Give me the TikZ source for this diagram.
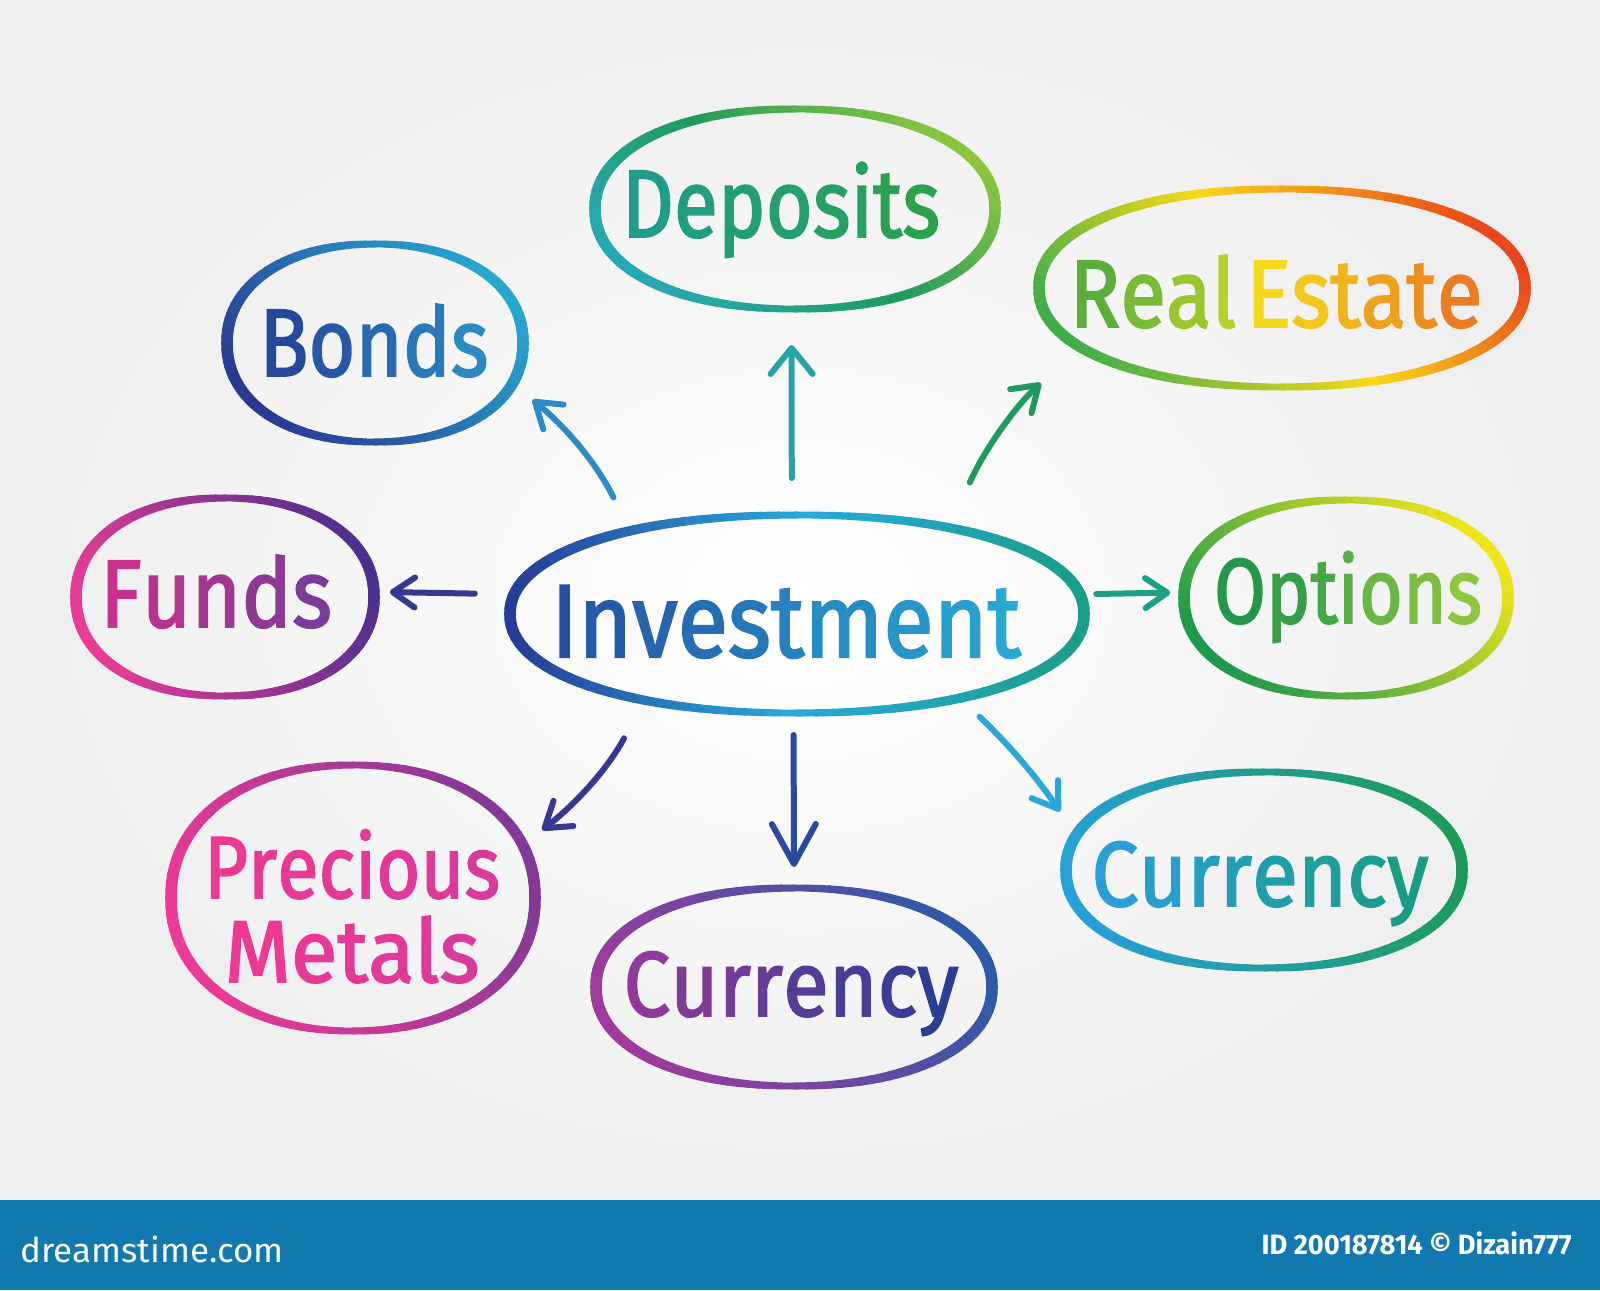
\documentclass[tikz,border=0pt]{standalone}
\usepackage{fontspec}
\setmainfont{Fira Sans}
\newfontfamily\hwfont{Fira Sans}[FakeBold=2]
\usepackage{graphicx}
\usetikzlibrary{shapes.geometric,arrows.meta}

\newlength\gpx
\setlength\gpx{0.5pt}
\newcommand\hw[1]{\hwfont\fontsize{#1}{#1}\selectfont}

\ExplSyntaxOn
\int_new:N \l_gt_i_int
\int_new:N \l_gt_n_int
\int_new:N \l_gt_p_int
\NewDocumentCommand \gradtext { m m m }
  {
    \int_zero:N \l_gt_i_int
    \int_set:Nn \l_gt_n_int { \int_max:nn { \tl_count:n {#3} - 1 } { 1 } }
    \tl_map_inline:nn {#3}
      {
        \int_set:Nn \l_gt_p_int { 100 * \l_gt_i_int / \l_gt_n_int }
        \edef\gtcol{#2!\int_use:N \l_gt_p_int!#1}
        \textcolor{\gtcol}{##1}
        \int_incr:N \l_gt_i_int
      }
  }
\ExplSyntaxOff

\definecolor{bgout}{RGB}{238,238,238}
\definecolor{barblue}{RGB}{17,120,176}
% Deposits
\definecolor{dpA}{HTML}{27A9B5}\definecolor{dpB}{HTML}{1F9A5C}\definecolor{dpC}{HTML}{8DC63F}
\definecolor{dpT1}{HTML}{1F9D8A}\definecolor{dpT2}{HTML}{2BA24A}
% Real Estate
\definecolor{reA}{HTML}{3FAE49}\definecolor{reB}{HTML}{F7D917}\definecolor{reC}{HTML}{E9431D}
\definecolor{reT1}{HTML}{5AAF3A}\definecolor{reT2}{HTML}{B6D22A}
\definecolor{reT3}{HTML}{F4D81A}\definecolor{reT4}{HTML}{EA7D22}
% Bonds
\definecolor{bnA}{HTML}{2A3A93}\definecolor{bnC}{HTML}{27A8CF}\colorlet{bnB}{bnA!50!bnC}
\definecolor{bnT1}{HTML}{24489C}\definecolor{bnT2}{HTML}{2B8AC4}
% Funds
\definecolor{fdA}{HTML}{EA3C94}\definecolor{fdC}{HTML}{4A2F8F}\colorlet{fdB}{fdA!50!fdC}
\definecolor{fdT1}{HTML}{C8318E}\definecolor{fdT2}{HTML}{7A3C98}
% Investment
\definecolor{ivA}{HTML}{263D98}\definecolor{ivB}{HTML}{27A9D9}\definecolor{ivC}{HTML}{1A9E86}
\definecolor{ivT1}{HTML}{2550A3}\definecolor{ivT2}{HTML}{28A9D4}
% Options
\definecolor{opA}{HTML}{1C9A4C}\definecolor{opC}{HTML}{F2E51C}\colorlet{opB}{opA!50!opC}
\definecolor{opT1}{HTML}{23974A}\definecolor{opT2}{HTML}{8DC63F}
% Currency right
\definecolor{crA}{HTML}{27A0DA}\definecolor{crC}{HTML}{1D9B54}\colorlet{crB}{crA!50!crC}
\definecolor{crT1}{HTML}{2A9ED8}\definecolor{crT2}{HTML}{199E85}
% Precious metals
\definecolor{pmA}{HTML}{EE3A94}\definecolor{pmC}{HTML}{7F3A97}\colorlet{pmB}{pmA!50!pmC}
\definecolor{pmT1}{HTML}{EC3A92}\definecolor{pmT2}{HTML}{D93A9C}
% Currency bottom
\definecolor{cbA}{HTML}{A2399A}\definecolor{cbC}{HTML}{2A5BA9}\colorlet{cbB}{cbA!50!cbC}
\definecolor{cbT1}{HTML}{8E3A98}\definecolor{cbT2}{HTML}{2B3E96}
% arrows
\definecolor{arDep}{HTML}{26A3A8}\definecolor{arRe}{HTML}{1E9A5E}
\definecolor{arBn}{HTML}{2B8CC6}\definecolor{arFd}{HTML}{343A92}
\definecolor{arOp}{HTML}{1AA085}\definecolor{arPm}{HTML}{373894}
\definecolor{arCb}{HTML}{2A4AA0}\definecolor{arCr}{HTML}{27A7DA}

% name, cx, cy, rx, ry, colour left, colour mid, colour right, gradient direction
% outline drawn as a very slightly boxy ellipse in short segments
\newcommand\gradell[9]{%
  \node[ellipse, minimum width=#4pt, minimum height=#5pt, inner sep=0pt, outer sep=0pt] (#1) at (#2,#3) {};
  \foreach \gi in {0,3,...,357}{%
    \pgfmathtruncatemacro\gP{50*(1+cos(\gi+#9))}%
    \pgfmathsetmacro\gW{3.4+2.4*abs(cos(\gi))}%
    \pgfmathsetmacro\gXa{#2+#4*sign(cos(\gi))*abs(cos(\gi))^0.93}%
    \pgfmathsetmacro\gYa{#3+#5*sign(sin(\gi))*abs(sin(\gi))^0.93}%
    \pgfmathsetmacro\gXb{#2+#4*sign(cos(\gi+3))*abs(cos(\gi+3))^0.93}%
    \pgfmathsetmacro\gYb{#3+#5*sign(sin(\gi+3))*abs(sin(\gi+3))^0.93}%
    \ifnum\gP<50\relax
      \pgfmathtruncatemacro\gQ{2*\gP}\edef\gC{#7!\gQ!#6}%
    \else
      \pgfmathtruncatemacro\gQ{2*\gP-100}\edef\gC{#8!\gQ!#7}%
    \fi
    \draw[line width=\gW pt, draw=\gC, line cap=round] (\gXa,\gYa) -- (\gXb,\gYb);
  }%
}

\tikzset{
  txt/.style={anchor=base, inner sep=0pt, outer sep=0pt},
  arr/.style={line width=3pt, line cap=round, -{Straight Barb[length=12pt,width=16pt,round]}},
}

\begin{document}
\begin{tikzpicture}[x=0.5pt,y=-0.5pt]
\useasboundingbox (0,0) rectangle (1600,1290);
% background
\shade[inner color=white, outer color=bgout] (0,0) rectangle (1600,1200);
\fill[barblue] (0,1200) rectangle (1600,1290);
\node[anchor=base west, inner sep=0pt, text=white] (dreams) at (20,1262)
  {\resizebox{263\gpx}{\height}{\fontsize{17}{17}\selectfont dreamstime.com}};
\node[anchor=base east, inner sep=0pt, text=white] (idtxt) at (1572,1254)
  {\resizebox{310\gpx}{\height}{\fontsize{14}{14}\selectfont\bfseries ID 200187814 © Dizain777}};

% ellipses
\gradell{dep}{795}{209}{200}{100}{dpA}{dpB}{dpC}{30}
\gradell{re}{1282}{288}{243}{99}{reA}{reB}{reC}{20}
\gradell{bonds}{375}{343}{148}{99}{bnA}{bnB}{bnC}{30}
\gradell{funds}{225}{597}{149}{99}{fdA}{fdB}{fdC}{15}
\gradell{inv}{797}{614}{287}{99}{ivA}{ivB}{ivC}{0}
\gradell{opt}{1346}{598}{162}{98}{opA}{opB}{opC}{30}
\gradell{prec}{353}{898}{182}{133}{pmA}{pmB}{pmC}{20}
\gradell{curb}{794}{987}{198}{99}{cbA}{cbB}{cbC}{20}
\gradell{curr}{1264}{870}{198}{98}{crA}{crB}{crC}{10}

% texts
\node[txt] (depT) at (781,237) {\resizebox{318\gpx}{\height}{\hw{48}\gradtext{dpT1}{dpT2}{Deposits}}};
\node[txt] (reT) at (1276,327) {\resizebox{413\gpx}{\height}{\hw{48}\gradtext{reT1}{reT2}{Real}\hspace{0.12em}\gradtext{reT3}{reT4}{Estate}}};
\node[txt] (invT) at (786,657) {\resizebox{470\gpx}{\height}{\hw{52}\gradtext{ivT1}{ivT2}{Investment}}};
\node[txt] (bondsT) at (374,376) {\resizebox{229\gpx}{\height}{\hw{48}\gradtext{bnT1}{bnT2}{Bonds}}};
\node[txt] (fundsT) at (216,627) {\resizebox{232\gpx}{\height}{\hw{48}\gradtext{fdT1}{fdT2}{Funds}}};
\node[txt] (optT) at (1348,623) {\resizebox{268\gpx}{\height}{\hw{46}\gradtext{opT1}{opT2}{Options}}};
\node[txt, align=center, font=\hw{44}] (precT) at (352,982)
  {\resizebox{296\gpx}{\height}{\gradtext{pmT1}{pmT2}{Precious}}\\[-2pt]
   \resizebox{255\gpx}{\height}{\gradtext{pmT1}{pmT2}{Metals}}};
\node[txt] (curbT) at (791,1016) {\resizebox{335\gpx}{\height}{\hw{46}\gradtext{cbT1}{cbT2}{Currency}}};
\node[txt] (currT) at (1260,906) {\resizebox{337\gpx}{\height}{\hw{46}\gradtext{crT1}{crT2}{Currency}}};

% arrows
\draw[arr, draw=arDep, shorten <=18.5pt, shorten >=18pt, -{Straight Barb[length=13pt,width=21pt,round]}] (inv.93) -- (dep.268);
\draw[arr, draw=arRe, shorten <=26pt, shorten >=28.5pt] (inv.29) to[bend left=12] (re.196);
\draw[arr, draw=arBn, shorten <=20pt, shorten >=14pt] (inv.154) to[bend right=12] (bonds.344);
\draw[arr, draw=arFd, shorten <=20.5pt, shorten >=8pt, -{Straight Barb[length=11pt,width=15pt,round]}] (inv.176) -- (funds.2);
\draw[arr, draw=arOp, shorten <=9pt, shorten >=7pt, -{Straight Barb[length=11pt,width=15pt,round]}] (inv.4) -- (opt.178);
\draw[arr, draw=arPm, shorten <=22.75pt, shorten >=13.5pt] (inv.209) to[bend left=12] (prec.17);
\draw[arr, draw=arCb, shorten <=11pt, shorten >=10.5pt, -{Straight Barb[length=20pt,width=22pt,round]}] (inv.268) -- (curb.90);
\draw[arr, draw=arCr, shorten <=15pt, shorten >=15.5pt] (inv.333) to[bend left=6] (curr.170);
\end{tikzpicture}
\end{document}
